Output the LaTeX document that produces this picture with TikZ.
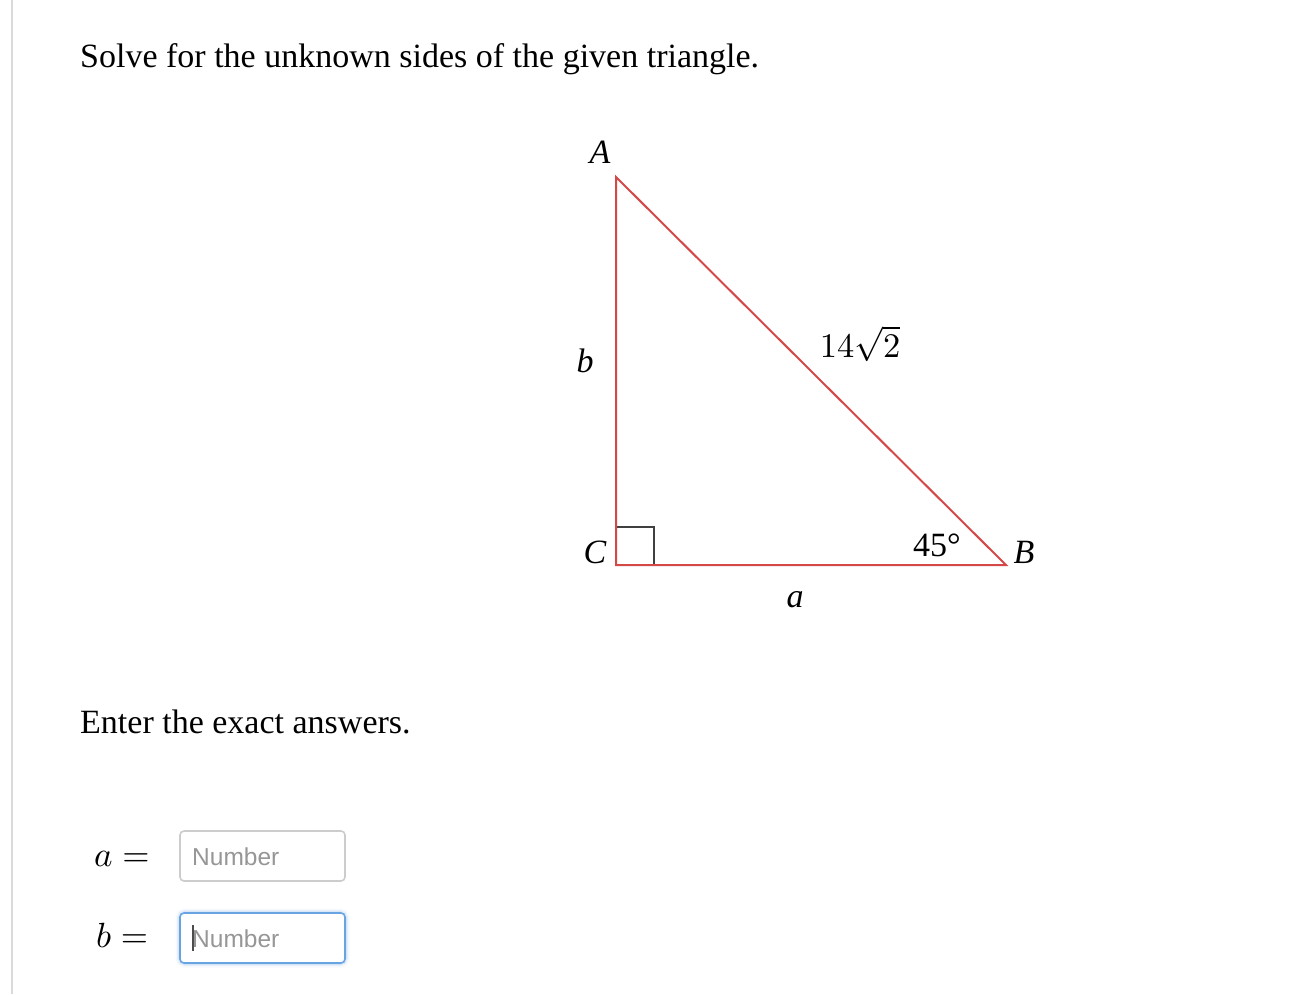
\documentclass[tikz,border=0pt]{standalone}
\usepackage{graphicx}
\usepackage{fontspec}
\setmainfont{Liberation Serif}
\newfontfamily\boxfont{Liberation Sans}
\definecolor{trired}{RGB}{212,72,72}
\definecolor{bordergray}{RGB}{204,204,204}
\definecolor{railgray}{RGB}{218,218,218}
\definecolor{focusblue}{RGB}{104,164,226}
\definecolor{phgray}{RGB}{150,150,150}
\begin{document}
\begin{tikzpicture}[x=1pt,y=-1pt,
  txt/.style={inner sep=0pt, font=\fontsize{34}{40}\selectfont},
  lbl/.style={inner sep=0pt, font=\fontsize{34}{40}\selectfont\itshape},
  mth/.style={inner sep=0pt, font=\fontsize{10}{12}\selectfont},
  side/.style={trired, line width=2pt},
  inbox/.style={rounded corners=4pt, line width=1.6pt, fill=white},
  ph/.style={inner sep=0pt, text=phgray, font=\fontsize{24.5}{29}\selectfont\boxfont}]
\useasboundingbox (0,0) rectangle (1296,994);
\fill[white] (0,0) rectangle (1296,994);
% left rail
\draw[railgray, line width=2.2pt] (12,0) -- (12,994);
% title
\node[txt, anchor=base west] (title) at (80,67) {Solve for the unknown sides of the given triangle.};
% triangle
\coordinate (A) at (616,177);
\coordinate (C) at (616,565);
\coordinate (B) at (1006,565);
\draw[black!75, line width=1.4pt] (616,527) -- (654,527) -- (654,565);
\draw[side, line join=miter] (A) -- (C) -- (B) -- cycle;
\node[lbl] (lA) at (600,152) {A};
\node[lbl] (lb) at (585,361) {b};
\node[lbl] (lC) at (595,552) {C};
\node[lbl] (la) at (795,600) {a};
\node[lbl] (lB) at (1024,552) {B};
\node[mth] (hyp) at (860,344) {\scalebox{3.45}{$14\sqrt{2}$}};
\node[txt] (ang) at (937,545) {45\textdegree};
% prompt
\node[txt, anchor=base west] (enter) at (80,733) {Enter the exact answers.};
% answer rows
\node[mth, anchor=base west] (aeq) at (94,866) {\scalebox{3.5}{$a =$}};
\node[mth, anchor=base west] (beq) at (96,947) {\scalebox{3.5}{$b =$}};
\draw[inbox, draw=bordergray] (180,831) rectangle (345,881);
\node[ph, anchor=base west] (ph1) at (192,865) {Number};
\foreach \w/\o in {9/0.06,6/0.10,3.5/0.16}
  \draw[focusblue, rounded corners=5pt, line width=\w pt, opacity=\o] (180,913) rectangle (345,963);
\draw[inbox, draw=focusblue] (180,913) rectangle (345,963);
\node[ph, anchor=base west] (ph2) at (192,947) {Number};
\draw[black!70, line width=1.2pt] (193,925) -- (193,951);
\end{tikzpicture}
\end{document}
